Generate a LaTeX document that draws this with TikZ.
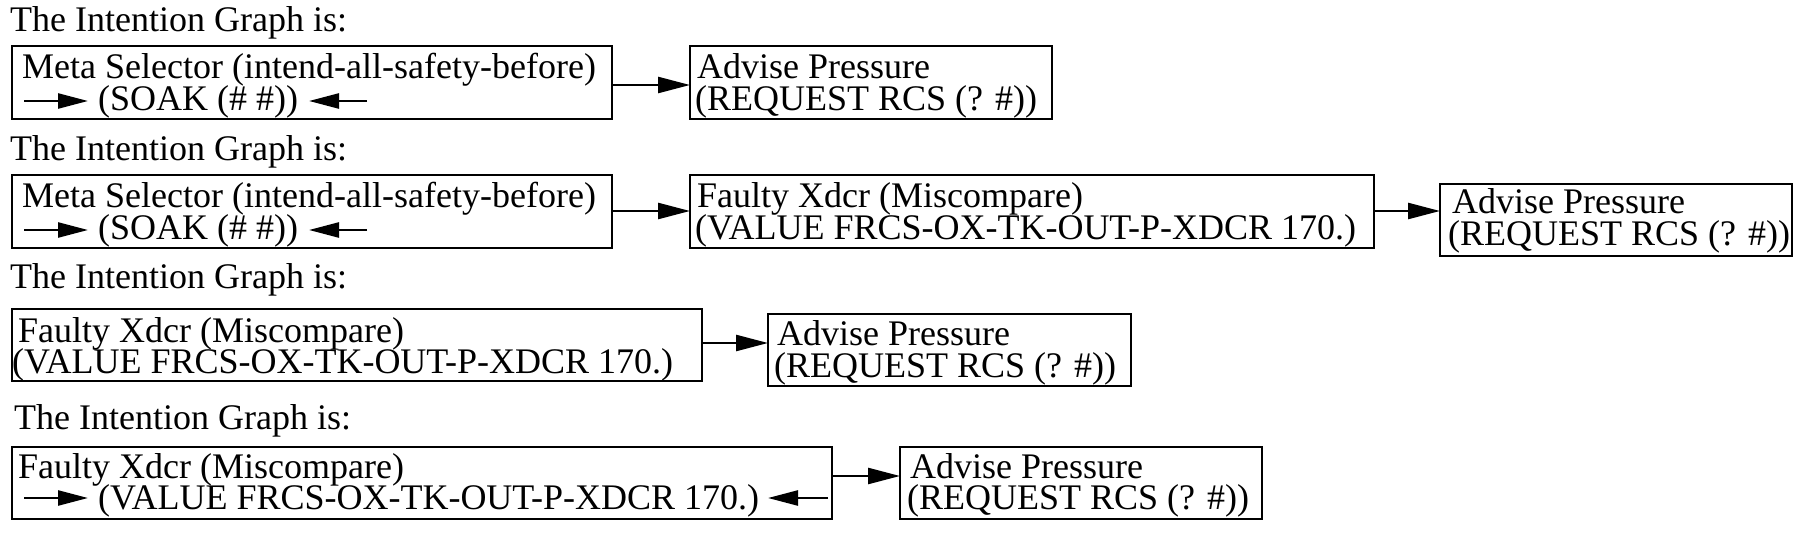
\documentclass[tikz,border=0pt]{standalone}
\usepackage{fontspec}
\setmainfont{Liberation Serif}
\usetikzlibrary{arrows.meta}
\begin{document}
\begin{tikzpicture}[x=1pt,y=-1pt,
  bx/.style={line width=2.5pt},
  txt/.style={anchor=base west,inner sep=0pt,font=\fontsize{36}{36}\selectfont},
  arr/.style={line width=2.5pt,-{Triangle[length=32pt,width=16pt]}},
  sarr/.style={line width=2.5pt,-{Triangle[length=30pt,width=15pt]}}]
\useasboundingbox (0,0) rectangle (1807,548);
% row 1
\node[txt] (t1) at (10,32) {The Intention Graph is:};
\draw[bx] (12,46) rectangle (612,119);
\node[txt] (a1) at (22,79) {Meta Selector (intend-all-safety-before)};
\node[txt] (a1b) at (98,111) {(SOAK (\# \#))};
\draw[sarr] (24,101) -- (88,101);
\draw[sarr] (367,101) -- (309,101);
\draw[bx] (690,46) rectangle (1052,119);
\node[txt] (c1) at (697,79) {Advise Pressure};
\node[txt] (c1b) at (695,111) {(REQUEST RCS (? \#))};
\draw[arr] (612,85) -- (690,85);
% row 2
\node[txt] (t2) at (10,161) {The Intention Graph is:};
\draw[bx] (12,175) rectangle (612,248);
\node[txt] (a2) at (22,208) {Meta Selector (intend-all-safety-before)};
\node[txt] (a2b) at (98,240) {(SOAK (\# \#))};
\draw[sarr] (24,230) -- (88,230);
\draw[sarr] (367,230) -- (309,230);
\draw[bx] (690,175) rectangle (1374,248);
\node[txt] (f2) at (697,208) {Faulty Xdcr (Miscompare)};
\node[txt] (f2b) at (695,240) {(VALUE FRCS-OX-TK-OUT-P-XDCR 170.)};
\draw[arr] (612,211) -- (690,211);
\draw[bx] (1440,184) rectangle (1792,256);
\node[txt] (c2) at (1452,214) {Advise Pressure};
\node[txt] (c2b) at (1448,246) {(REQUEST RCS (? \#))};
\draw[arr] (1374,211) -- (1440,211);
% row 3
\node[txt] (t3) at (10,288) {The Intention Graph is:};
\draw[bx] (12,309) rectangle (702,381);
\node[txt] (f3) at (18,342) {Faulty Xdcr (Miscompare)};
\node[txt] (f3b) at (12,373) {(VALUE FRCS-OX-TK-OUT-P-XDCR 170.)};
\draw[bx] (768,314) rectangle (1131,386);
\node[txt] (c3) at (777,345) {Advise Pressure};
\node[txt] (c3b) at (774,377) {(REQUEST RCS (? \#))};
\draw[arr] (702,343) -- (768,343);
% row 4
\node[txt] (t4) at (14,429) {The Intention Graph is:};
\draw[bx] (12,447) rectangle (832,519);
\node[txt] (f4) at (18,478) {Faulty Xdcr (Miscompare)};
\node[txt] (f4b) at (98,509) {(VALUE FRCS-OX-TK-OUT-P-XDCR 170.)};
\draw[sarr] (24,498) -- (88,498);
\draw[sarr] (828,498) -- (768,498);
\draw[bx] (900,447) rectangle (1262,519);
\node[txt] (c4) at (910,478) {Advise Pressure};
\node[txt] (c4b) at (907,509) {(REQUEST RCS (? \#))};
\draw[arr] (832,476) -- (900,476);
\end{tikzpicture}
\end{document}
